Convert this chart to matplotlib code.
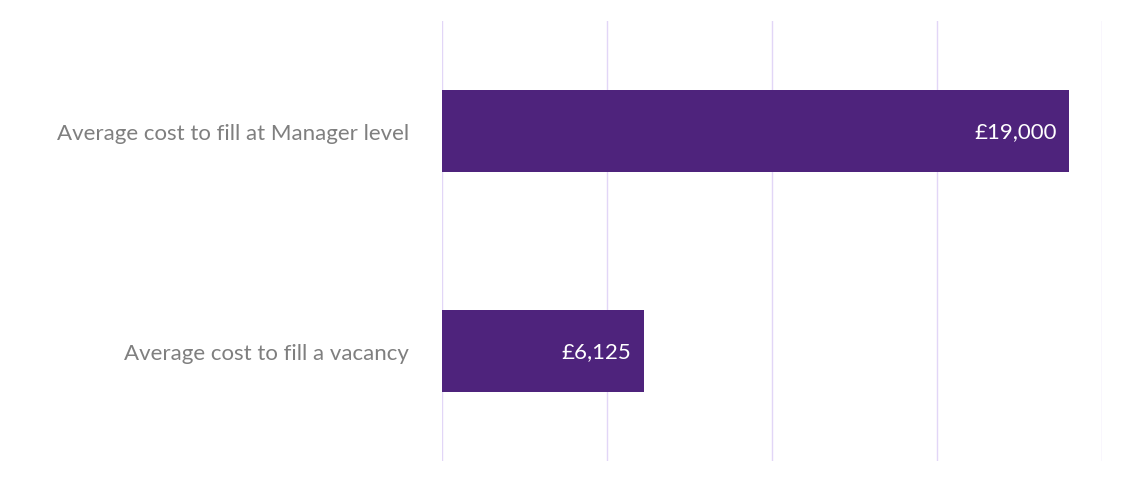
import matplotlib
matplotlib.use("Agg")
import matplotlib.pyplot as plt

categories = ["Average cost to fill at Manager level", "Average cost to fill a vacancy"]
values = [19000, 6125]
value_labels = ["£19,000", "£6,125"]

plt.rcParams['font.family'] = ['Lato', 'DejaVu Sans']
fig = plt.figure(figsize=(11.25, 4.85), dpi=100)
ax = fig.add_axes([442/1125, 23/485, 660/1125, 440/485])
ypos = [1, 0]
ax.barh(ypos, values, height=0.373, color="#4E237C", zorder=3)
ax.set_xlim(0, 20000)
ax.set_ylim(-0.5, 1.5)
ax.set_xticks([0, 5000, 10000, 15000, 20000])
ax.xaxis.grid(True, color="#E2D6F7", linewidth=1, zorder=0)
ax.tick_params(axis='x', length=0, labelbottom=False)
ax.set_yticks(ypos)
ax.set_yticklabels(categories, fontsize=16, color="#7F7F7F")
ax.tick_params(axis='y', length=0, pad=24)
for s in ax.spines.values():
    s.set_visible(False)
for y, v, lab in zip(ypos, values, value_labels):
    ax.text(v - 380, y, lab, ha='right', va='center', color='white', fontsize=16, zorder=4)
fig.savefig("out.png", dpi=100)
